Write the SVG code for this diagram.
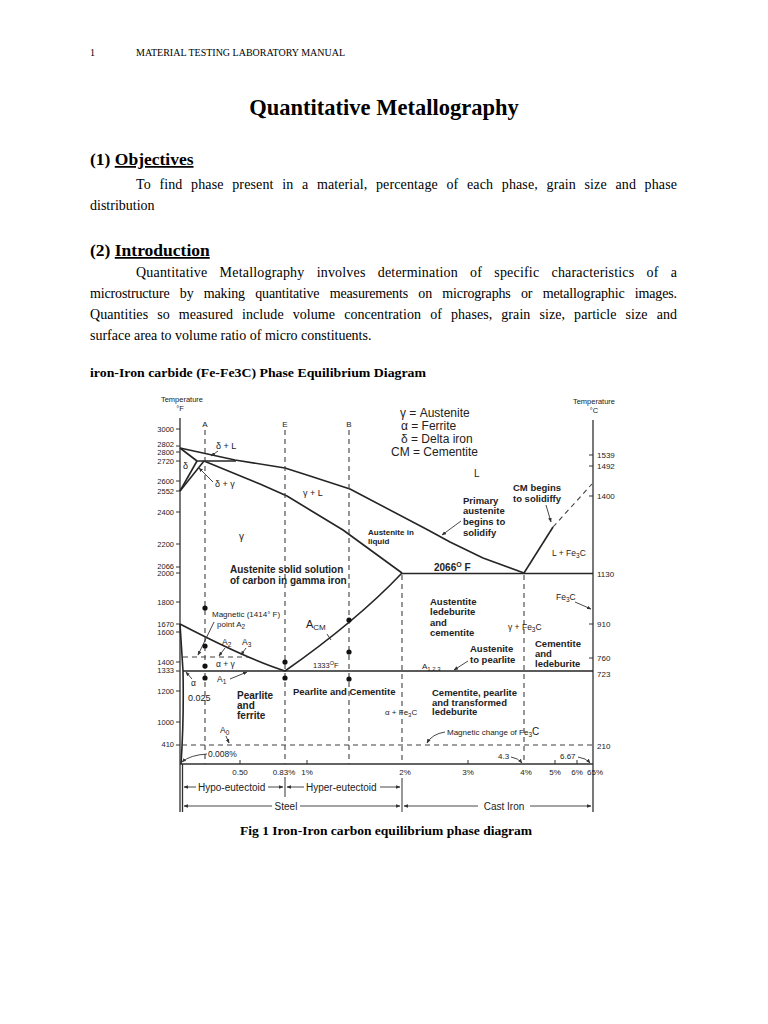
<svg xmlns="http://www.w3.org/2000/svg" width="768" height="1024" viewBox="0 0 768 1024">
<defs>
<style>
.pg{font-family:"Liberation Serif","Times New Roman",serif;fill:#000}
.d{font-family:"Liberation Sans",Arial,sans-serif;fill:#222}
.b{font-weight:bold}
.ph{fill:none;stroke:#252525;stroke-width:1.6;stroke-linejoin:round}
.ax{fill:none;stroke:#303030;stroke-width:1.3}
.dash{fill:none;stroke:#404040;stroke-width:1.1;stroke-dasharray:5 4}
.tk{stroke:#333;stroke-width:1}
.pt{fill:none;stroke:#333;stroke-width:0.9}
.dot{fill:#111}
</style>
<marker id="ah" viewBox="0 0 10 10" refX="9" refY="5" markerWidth="5" markerHeight="5" orient="auto">
<path d="M0,1 L10,5 L0,9 z" fill="#333"/>
</marker>
</defs>
<rect width="768" height="1024" fill="#fff"/>

<!-- page text -->
<g id="page-text">
<text class="pg" x="90" y="56" font-size="10">1</text>
<text class="pg" x="136" y="56" font-size="10" textLength="209" lengthAdjust="spacingAndGlyphs">MATERIAL TESTING LABORATORY MANUAL</text>
<text class="pg b" x="384" y="115" font-size="22.5" text-anchor="middle">Quantitative Metallography</text>
<text class="pg b" x="90" y="165" font-size="17.5">(1) <tspan text-decoration="underline">Objectives</tspan></text>
<text class="pg" x="136" y="189" font-size="14" word-spacing="5" textLength="541" lengthAdjust="spacing">To find phase present in a material, percentage of each phase, grain size and phase</text>
<text class="pg" x="90" y="210" font-size="14">distribution</text>
<text class="pg b" x="90" y="256" font-size="17.5">(2) <tspan text-decoration="underline">Introduction</tspan></text>
<text class="pg" x="136" y="277" font-size="14" word-spacing="8.5" textLength="541" lengthAdjust="spacing">Quantitative Metallography involves determination of specific characteristics of a</text>
<text class="pg" x="90" y="298" font-size="14" word-spacing="7" textLength="587" lengthAdjust="spacing">microstructure by making quantitative measurements on micrographs or metallographic images.</text>
<text class="pg" x="90" y="319" font-size="14" word-spacing="5.5" textLength="587" lengthAdjust="spacing">Quantities so measured include volume concentration of phases, grain size, particle size and</text>
<text class="pg" x="90" y="340" font-size="14">surface area to volume ratio of micro constituents.</text>
<text class="pg b" x="90" y="377" font-size="13" textLength="336" lengthAdjust="spacingAndGlyphs">iron-Iron carbide (Fe-Fe3C) Phase Equilibrium Diagram</text>
<text class="pg b" x="386" y="835" font-size="13" text-anchor="middle" textLength="292" lengthAdjust="spacingAndGlyphs">Fig 1 Iron-Iron carbon equilibrium phase diagram</text>
</g>

<!-- axes -->
<g id="axes">
<line class="ax" x1="180" y1="418" x2="180" y2="812"/>
<line class="ax" x1="182.5" y1="764" x2="182.5" y2="812"/>
<line class="ax" x1="593" y1="420" x2="593" y2="812"/>
<line class="ax" x1="180" y1="764" x2="593" y2="764" stroke-width="1.6"/>
<text class="d" x="182" y="402" font-size="7.5" text-anchor="middle">Temperature</text>
<text class="d" x="180" y="411" font-size="7.5" text-anchor="middle">°F</text>
<text class="d" x="594" y="404" font-size="7.5" text-anchor="middle">Temperature</text>
<text class="d" x="594" y="413" font-size="7.5" text-anchor="middle">°C</text>
<g class="tk">
<line x1="176" y1="429" x2="180" y2="429"/><line x1="176" y1="446" x2="180" y2="446"/><line x1="176" y1="452" x2="180" y2="452"/><line x1="176" y1="461" x2="180" y2="461"/><line x1="176" y1="481" x2="180" y2="481"/><line x1="176" y1="491" x2="180" y2="491"/><line x1="176" y1="512" x2="180" y2="512"/><line x1="176" y1="544" x2="180" y2="544"/><line x1="176" y1="567" x2="180" y2="567"/><line x1="176" y1="573" x2="180" y2="573"/><line x1="176" y1="602" x2="180" y2="602"/><line x1="176" y1="624" x2="180" y2="624"/><line x1="176" y1="632" x2="180" y2="632"/><line x1="176" y1="662" x2="180" y2="662"/><line x1="176" y1="671" x2="180" y2="671"/><line x1="176" y1="691" x2="180" y2="691"/><line x1="176" y1="722" x2="180" y2="722"/><line x1="176" y1="745" x2="180" y2="745"/>
<line x1="589" y1="455" x2="593" y2="455"/><line x1="589" y1="466" x2="593" y2="466"/><line x1="589" y1="496" x2="593" y2="496"/><line x1="589" y1="624" x2="593" y2="624"/><line x1="589" y1="658" x2="593" y2="658"/>
<line x1="240" y1="760" x2="240" y2="764"/><line x1="307" y1="760" x2="307" y2="764"/><line x1="468" y1="760" x2="468" y2="764"/><line x1="555" y1="760" x2="555" y2="764"/><line x1="577" y1="760" x2="577" y2="764"/>
</g>
<g class="d" font-size="7.5" text-anchor="end">
<text x="174" y="447">2802</text><text x="174" y="454.5">2800</text>
<text x="174" y="432">3000</text><text x="174" y="464">2720</text><text x="174" y="484">2600</text><text x="174" y="494">2552</text><text x="174" y="515">2400</text><text x="174" y="547">2200</text><text x="174" y="568.5">2066</text><text x="174" y="576">2000</text><text x="174" y="605">1800</text><text x="174" y="627">1670</text><text x="174" y="635">1600</text><text x="174" y="665">1400</text><text x="174" y="673">1333</text><text x="174" y="694">1200</text><text x="174" y="725">1000</text><text x="174" y="747">410</text>
</g>
<g class="d" font-size="8">
<text x="597" y="458">1539</text><text x="597" y="469">1492</text><text x="597" y="499">1400</text><text x="597" y="577">1130</text><text x="597" y="627">910</text><text x="597" y="661">760</text><text x="597" y="677">723</text><text x="597" y="749">210</text>
</g>
<g class="d" font-size="8" text-anchor="middle">
<text x="240" y="775">0.50</text><text x="284" y="775">0.83%</text><text x="307" y="775">1%</text><text x="405" y="775">2%</text><text x="468" y="775">3%</text><text x="526" y="775">4%</text><text x="555" y="775">5%</text><text x="577" y="775">6%</text><text x="595" y="775">65%</text>
</g>
</g>

<!-- phase boundaries -->
<g id="phase-lines">
<polyline class="ph" points="180,448 235,460 285,468 310,476 350,489 428,530 450,542 483,558 524,573"/>
<line class="ph" x1="180" y1="448" x2="197" y2="461"/>
<line class="ph" x1="197" y1="461" x2="236" y2="461"/>
<line class="ph" x1="180" y1="491" x2="197" y2="461"/>
<line class="ph" x1="180" y1="491" x2="204" y2="461"/>
<polyline class="ph" points="204,461 260,484 287,496 310,510 343,530 402,573"/>
<line class="ph" x1="402" y1="573.5" x2="593" y2="573.5"/>
<line class="ph" x1="524" y1="573" x2="553" y2="527"/>
<line class="dash" x1="553" y1="527" x2="592" y2="484" stroke-width="1.4"/>
<line class="ph" x1="183" y1="671" x2="593" y2="671"/>
<path class="ph" d="M180,624 C205,637 250,660 285,671"/>
<path class="ph" d="M285,671 C315,650 365,612 402,573"/>
<path class="ph" d="M180,624 L183,671 Q184,720 181,764"/>
</g>

<!-- dashed reference lines -->
<g id="dashed-lines">
<line class="dash" x1="183" y1="657" x2="248" y2="657"/>
<line class="dash" x1="182" y1="745" x2="593" y2="745" stroke-width="1.4"/>
<line class="dash" x1="205" y1="430" x2="205" y2="764"/>
<line class="dash" x1="285" y1="430" x2="285" y2="764"/>
<line class="dash" x1="349" y1="430" x2="349" y2="764"/>
<line class="dash" x1="402" y1="575" x2="402" y2="764"/>
<line class="dash" x1="524" y1="575" x2="524" y2="764" stroke-width="1.4"/>
<text class="d" x="205" y="427" font-size="8" text-anchor="middle">A</text>
<text class="d" x="285" y="427" font-size="8" text-anchor="middle">E</text>
<text class="d" x="349" y="427" font-size="8" text-anchor="middle">B</text>
</g>

<!-- points -->
<g id="points">
<circle class="dot" cx="205" cy="608" r="2.6"/><circle class="dot" cx="205" cy="646" r="2.6"/><circle class="dot" cx="205" cy="666" r="2.6"/><circle class="dot" cx="205" cy="678" r="2.6"/>
<circle class="dot" cx="285" cy="662" r="2.6"/><circle class="dot" cx="285" cy="678" r="2.6"/>
<circle class="dot" cx="349" cy="620" r="2.6"/><circle class="dot" cx="349" cy="652" r="2.6"/><circle class="dot" cx="349" cy="679" r="2.6"/>
</g>

<!-- legend -->
<g id="legend" class="d" font-size="12">
<text x="400" y="417">γ = Austenite</text>
<text x="401" y="430">α = Ferrite</text>
<text x="401" y="443">δ = Delta  iron</text>
<text x="391" y="456">CM = Cementite</text>
</g>

<!-- region labels -->
<g id="labels" class="d">
<text x="216" y="449" font-size="9">δ + L</text>
<text x="215" y="487" font-size="9">δ + γ</text>
<text x="183" y="469" font-size="9">δ</text>
<text x="303" y="496" font-size="9">γ + L</text>
<text x="239" y="540" font-size="10">γ</text>
<text x="474" y="477" font-size="10">L</text>
<g class="b" font-size="9.5">
<text x="463" y="504">Primary</text><text x="463" y="514">austenite</text><text x="463" y="525">begins to</text><text x="463" y="536">solidify</text>
<text x="513" y="491">CM begins</text><text x="513" y="502">to solidiffy</text>
</g>
<text class="b" x="368" y="535" font-size="8">Austenite in</text>
<text class="b" x="368" y="544" font-size="8">liquid</text>
<text class="b" x="434" y="571" font-size="10">2066<tspan dy="-4" font-size="7">O</tspan><tspan dy="4"> F</tspan></text>
<text class="b" x="230" y="573" font-size="10">Austenite solid solution</text>
<text class="b" x="230" y="584" font-size="10">of carbon in gamma iron</text>
<text x="552" y="556" font-size="8.5">L + Fe<tspan dy="2" font-size="6.5">3</tspan><tspan dy="-2">C</tspan></text>
<text x="556" y="600" font-size="8.5">Fe<tspan dy="2" font-size="6.5">3</tspan><tspan dy="-2">C</tspan></text>
<text x="508" y="630" font-size="8.5">γ + Fe<tspan dy="2" font-size="6.5">3</tspan><tspan dy="-2">C</tspan></text>
<g class="b" font-size="9.5">
<text x="430" y="605">Austentite</text><text x="430" y="615">ledeburite</text><text x="430" y="626">and</text><text x="430" y="636">cementite</text>
<text x="535" y="647">Cementite</text><text x="535" y="657">and</text><text x="535" y="667">ledeburite</text>
<text x="470" y="652">Austenite</text><text x="470" y="663">to pearlite</text>
<text x="237" y="699" font-size="10">Pearlite</text><text x="237" y="709" font-size="10">and</text><text x="237" y="719" font-size="10">ferrite</text>
<text x="293" y="695">Pearlite and Cementite</text>
<text x="432" y="696">Cementite, pearlite</text><text x="432" y="706">and transformed</text><text x="432" y="715">ledeburite</text>
</g>
<text x="422" y="669" font-size="8">A<tspan dy="2" font-size="6">1,2,3</tspan></text>
<text x="306" y="628" font-size="11">A<tspan dy="2" font-size="8">CM</tspan></text>
<text x="313" y="668" font-size="7.5">1333<tspan dy="-3" font-size="5.5">O</tspan><tspan dy="3">F</tspan></text>
<text x="212" y="617" font-size="8">Magnetic  (1414° F)</text>
<text x="217" y="627" font-size="8">point  A<tspan dy="2" font-size="6.5">2</tspan></text>
<text x="222" y="645" font-size="8.5">A<tspan dy="2" font-size="6.5">2</tspan></text>
<text x="242" y="645" font-size="8.5">A<tspan dy="2" font-size="6.5">3</tspan></text>
<text x="216" y="667" font-size="8.5">α + γ</text>
<text x="217" y="682" font-size="8.5">A<tspan dy="2" font-size="6.5">1</tspan></text>
<text x="191" y="686" font-size="8.5">α</text>
<text x="188" y="701" font-size="9">0.025</text>
<text x="385" y="715" font-size="8">α + Fe<tspan dy="2" font-size="6">3</tspan><tspan dy="-2">C</tspan></text>
<text x="447" y="735" font-size="8">Magnetic  change  of  Fe<tspan dy="2" font-size="6.5">3</tspan><tspan dy="-2" font-size="10">C</tspan></text>
<text x="220" y="733" font-size="8.5">A<tspan dy="2" font-size="6.5">0</tspan></text>
<text x="208" y="757" font-size="8.5">0.008%</text>
<text x="498" y="759" font-size="8">4.3</text>
<text x="560" y="759" font-size="8">6.67</text>
</g>

<!-- pointer connectors -->
<g id="connectors">
<line class="pt" x1="218" y1="451" x2="211" y2="456" marker-end="url(#ah)"/>
<line class="pt" x1="213" y1="482" x2="199" y2="468" marker-end="url(#ah)"/>
<line class="pt" x1="461" y1="521" x2="442" y2="535" marker-end="url(#ah)"/>
<line class="pt" x1="546" y1="505" x2="551" y2="522" marker-end="url(#ah)"/>
<line class="pt" x1="575" y1="602" x2="591" y2="609" marker-end="url(#ah)"/>
<line class="pt" x1="468" y1="661" x2="454" y2="670" marker-end="url(#ah)"/>
<line class="pt" x1="327" y1="634" x2="331" y2="640"/>
<line class="pt" x1="214" y1="622" x2="198" y2="655" marker-end="url(#ah)"/>
<line class="pt" x1="225" y1="648" x2="219" y2="656" marker-end="url(#ah)"/>
<line class="pt" x1="246" y1="648" x2="241" y2="655" marker-end="url(#ah)"/>
<line class="pt" x1="230" y1="679" x2="247" y2="672" marker-end="url(#ah)"/>
<line class="pt" x1="192" y1="679" x2="186" y2="672" marker-end="url(#ah)"/>
<path class="pt" d="M445,732 Q432,734 427,743" marker-end="url(#ah)"/>
<line class="pt" x1="226" y1="736" x2="229" y2="743" marker-end="url(#ah)"/>
<path class="pt" d="M207,754 Q190,755 182,762" marker-end="url(#ah)"/>
<path class="pt" d="M511,757 Q518,758 522,763" marker-end="url(#ah)"/>
<path class="pt" d="M578,757 Q586,758 590,763" marker-end="url(#ah)"/>
</g>

<!-- composition brackets -->
<g id="brackets">
<line class="tk" x1="285" y1="777" x2="285" y2="797"/>
<line class="tk" x1="402" y1="778" x2="402" y2="812"/>
<line class="pt" x1="196" y1="787" x2="184" y2="787" marker-end="url(#ah)"/>
<line class="pt" x1="268" y1="787" x2="283" y2="787" marker-end="url(#ah)"/>
<line class="pt" x1="304" y1="787" x2="287" y2="787" marker-end="url(#ah)"/>
<line class="pt" x1="380" y1="787" x2="400" y2="787" marker-end="url(#ah)"/>
<line class="pt" x1="272" y1="806" x2="184" y2="806" marker-end="url(#ah)"/>
<line class="pt" x1="300" y1="806" x2="400" y2="806" marker-end="url(#ah)"/>
<line class="pt" x1="478" y1="806" x2="404" y2="806" marker-end="url(#ah)"/>
<line class="pt" x1="530" y1="806" x2="591" y2="806" marker-end="url(#ah)"/>
<text class="d" x="198" y="791" font-size="10">Hypo-eutectoid</text>
<text class="d" x="306" y="791" font-size="10">Hyper-eutectoid</text>
<text class="d" x="286" y="810" font-size="10" text-anchor="middle">Steel</text>
<text class="d" x="504" y="810" font-size="10" text-anchor="middle">Cast Iron</text>
</g>
</svg>
